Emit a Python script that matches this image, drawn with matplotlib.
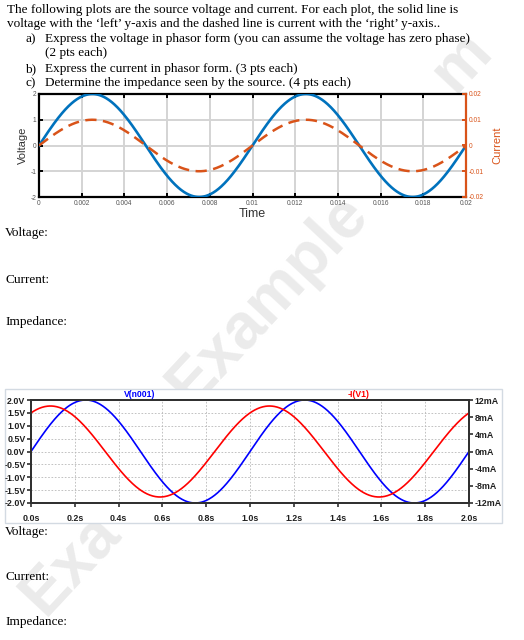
import numpy as np
import matplotlib.pyplot as plt
from matplotlib.patches import Rectangle

W, H = 524, 640

# ---- data ----
# top plot (MATLAB style): solid = voltage (left axis), dashed = current (right axis)
top_time_ticks = [0, 0.002, 0.004, 0.006, 0.008, 0.01, 0.012, 0.014, 0.016, 0.018, 0.02]
top_volt_ticks = [-2, -1, 0, 1, 2]
top_curr_ticks = [-0.02, -0.01, 0, 0.01, 0.02]
top_volt_amp = 2.0        # V
top_curr_amp = 0.01       # A
top_freq = 100.0          # Hz  (period 0.01 s)
top_curr_phase = 0.0      # deg, current in phase with voltage

# bottom plot (LTspice style): blue = V(n001), red = -I(V1)
bot_time_ticks = [0.0, 0.2, 0.4, 0.6, 0.8, 1.0, 1.2, 1.4, 1.6, 1.8, 2.0]
bot_volt_ticks = [-2.0, -1.5, -1.0, -0.5, 0.0, 0.5, 1.0, 1.5, 2.0]
bot_curr_ticks = [-12, -8, -4, 0, 4, 8, 12]   # mA
bot_volt_amp = 2.0        # V
bot_curr_amp = 10.6       # mA
bot_freq = 1.0            # Hz
bot_curr_phase = 58.0     # deg, current leads voltage

header = [
    (7, 10, "The following plots are the source voltage and current. For each plot, the solid line is"),
    (7, 24, "voltage with the \u2018left\u2019 y-axis and the dashed line is current with the \u2018right\u2019 y-axis.."),
    (25, 39, "a)"), (45, 39, "Express the voltage in phasor form (you can assume the voltage has zero phase)"),
    (45, 53, "(2 pts each)"),
    (25, 69, "b)"), (45, 69, "Express the current in phasor form. (3 pts each)"),
    (25, 83, "c)"), (45, 83, "Determine the impedance seen by the source. (4 pts each)"),
]
answers = [(233, "Voltage:"), (280, "Current:"), (322, "Impedance:"),
           (532, "Voltage:"), (577, "Current:"), (622, "Impedance:")]

# visible pieces of the faint "Example" watermark: (x, y, ha, text)
watermark = [(268, 300, "center", "Example"), (54, 626, "left", "Exa"), (462, 62, "center", "m")]


def fx(x):
    return x / W


def fy(y):
    return 1 - y / H


def box(left, top, right, bottom):
    return [fx(left), fy(bottom), (right - left) / W, (bottom - top) / H]


fig = plt.figure(figsize=(W / 100, H / 100), dpi=100)
fig.patch.set_facecolor("white")

# faint diagonal watermark behind everything
for x, y, ha, s in watermark:
    fig.text(fx(x), fy(y), s, fontsize=46, fontweight="bold",
             color="#ebebeb", rotation=47, ha=ha,
             va="center" if ha == "center" else "bottom",
             rotation_mode="anchor", family="Liberation Sans", zorder=-2)

serif = "Liberation Serif"
for x, y, s in header:
    fig.text(fx(x), fy(y), s, fontsize=9.5, family=serif, va="center", ha="left")
for y, s in answers:
    fig.text(fx(5), fy(y), s, fontsize=9.5, family=serif, va="center", ha="left")

# ---------------- top plot ----------------
blue_m, orange_m = "#0072BD", "#D95319"
t1 = np.linspace(0, 0.02, 800)
v1 = top_volt_amp * np.sin(2 * np.pi * top_freq * t1)
i1 = top_curr_amp * np.sin(2 * np.pi * top_freq * t1 + np.radians(top_curr_phase))

ax1 = fig.add_axes(box(39, 94, 466, 197))
ax2 = ax1.twinx()
ax1.plot(t1, v1, color=blue_m, lw=1.9, zorder=3)
ax2.plot(t1, i1, color=orange_m, lw=1.8, dashes=(4.5, 2.6))
ax1.set_xlim(0, 0.02)
ax1.set_ylim(-2, 2)
ax2.set_ylim(-0.02, 0.02)
ax1.set_xticks(top_time_ticks)
ax1.set_xticklabels([f"{v:g}" for v in top_time_ticks])
ax1.set_yticks(top_volt_ticks)
ax1.set_yticklabels([f"{v:g}" for v in top_volt_ticks])
ax2.set_yticks(top_curr_ticks)
ax2.set_yticklabels([f"{v:g}" for v in top_curr_ticks])
ax1.grid(True, color="#d4d4d4", lw=1.4)
ax1.set_axisbelow(True)
for side in ["left", "bottom", "top"]:
    ax1.spines[side].set_linewidth(1.6)
    ax1.spines[side].set_color("black")
ax1.spines["right"].set_visible(False)
for side in ["left", "bottom", "top"]:
    ax2.spines[side].set_visible(False)
ax2.spines["right"].set_color(orange_m)
ax2.spines["right"].set_linewidth(1.6)
ax1.tick_params(direction="in", length=3, width=1.4, top=True, color="black",
                labelcolor="#555555", labelsize=4.8, pad=2)
ax2.tick_params(direction="in", length=3, width=1.4, color=orange_m,
                labelcolor=orange_m, labelsize=4.8, pad=2)
for lab in ax1.get_xticklabels() + ax1.get_yticklabels() + ax2.get_yticklabels():
    lab.set_family("Liberation Sans")
ax1.set_xlabel("Time", fontsize=9, family="Liberation Sans", color="#333333", labelpad=1)
ax1.set_ylabel("Voltage", fontsize=8, family="Liberation Sans", color="#333333", labelpad=2)
ax2.set_ylabel("Current", fontsize=8, family="Liberation Sans", color=orange_m, labelpad=6)

# ---------------- bottom plot ----------------
fig.add_artist(Rectangle((fx(5), fy(523)), 497 / W, 134 / H, transform=fig.transFigure,
                         facecolor="white", edgecolor="#d3dae2", lw=1.0, zorder=-1))

t2 = np.linspace(0, 2.0, 800)
v2 = bot_volt_amp * np.sin(2 * np.pi * bot_freq * t2)
i2 = bot_curr_amp * np.sin(2 * np.pi * bot_freq * t2 + np.radians(bot_curr_phase))

ax3 = fig.add_axes(box(31, 400, 469, 503))
ax3.set_facecolor("none")
ax4 = ax3.twinx()
ax3.plot(t2, v2, color="#0000ff", lw=1.2)
ax4.plot(t2, i2, color="#ff0000", lw=1.2)
ax3.set_xlim(0, 2.0)
ax3.set_ylim(-2, 2)
ax4.set_ylim(-12, 12)
ax3.set_xticks(bot_time_ticks)
ax3.set_xticklabels([f"{v:.1f}s" for v in bot_time_ticks])
ax3.set_yticks(bot_volt_ticks)
ax3.set_yticklabels([f"{v:.1f}V" for v in bot_volt_ticks])
ax4.set_yticks(bot_curr_ticks)
ax4.set_yticklabels([f"{v}mA" for v in bot_curr_ticks])
ax3.grid(True, color="#b8b8b8", lw=0.6, ls=(0, (2, 2)))
for a in (ax3, ax4):
    for s in a.spines.values():
        s.set_color("#303030")
        s.set_linewidth(1.3)
    a.tick_params(direction="out", length=3, width=1.2, color="#303030",
                  labelsize=6.4, pad=1)
for lab in ax3.get_xticklabels() + ax3.get_yticklabels() + ax4.get_yticklabels():
    lab.set_family("Liberation Sans")
    lab.set_fontweight("bold")
    lab.set_color("#202020")
ax3.tick_params(axis="x", pad=5)
ax3.text(0.249, 1.01, "V(n001)", transform=ax3.transAxes, color="#0000ff", ha="center",
         va="bottom", fontsize=6.2, family="Liberation Sans", fontweight="bold")
ax3.text(0.749, 1.01, "-I(V1)", transform=ax3.transAxes, color="#ff0000", ha="center",
         va="bottom", fontsize=6.2, family="Liberation Sans", fontweight="bold")

fig.savefig("out.png", dpi=100)
